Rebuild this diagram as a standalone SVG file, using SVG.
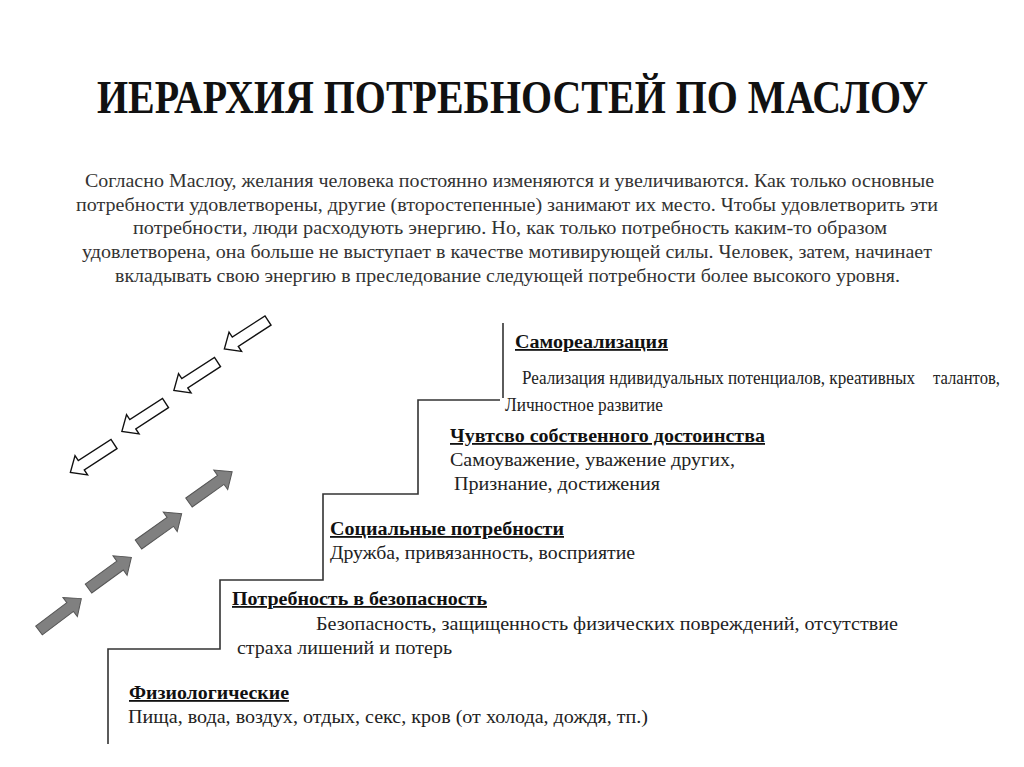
<svg xmlns="http://www.w3.org/2000/svg" width="1024" height="767" viewBox="0 0 1024 767">
<style>
  .title { font-family: "Liberation Serif", "Times New Roman", serif; font-weight: bold; font-size: 40px; fill: #111; }
  .para { font-family: "Liberation Serif", "Times New Roman", serif; font-size: 18px; fill: #333; }
  .hdr { font-family: "Liberation Serif", "Times New Roman", serif; font-weight: bold; font-size: 18px; fill: #111; text-decoration: underline; }
  .body { font-family: "Liberation Serif", "Times New Roman", serif; font-size: 18px; fill: #222; }
  .stair { fill: none; stroke: #333; stroke-width: 1.6; }
  .wa { fill: #fff; stroke: #111; stroke-width: 1.4; stroke-linejoin: miter; }
  .ga { fill: #808080; stroke: #555; stroke-width: 1; }
</style>
<defs>
  <polygon id="warrow" points="0,-5.5 39,-5.5 39,-11.5 52,0 39,11.5 39,5.5 0,5.5"/>
  <polygon id="garrow" points="0,-5.5 39,-5.5 39,-12 53,0 39,12 39,5.5 0,5.5"/>
</defs>
<rect width="1024" height="767" fill="#fff"/>

<g id="title">
  <text class="title" x="0" y="0" transform="translate(97,113) scale(1,1.175)" textLength="831" lengthAdjust="spacingAndGlyphs">ИЕРАРХИЯ ПОТРЕБНОСТЕЙ ПО МАСЛОУ</text>
</g>

<g id="intro">
  <text class="para" x="85" y="187" textLength="849" lengthAdjust="spacingAndGlyphs">Согласно Маслоу, желания человека постоянно изменяются и увеличиваются. Как только основные</text>
  <text class="para" x="76" y="211" textLength="862" lengthAdjust="spacingAndGlyphs">потребности удовлетворены, другие (второстепенные) занимают их место. Чтобы удовлетворить эти</text>
  <text class="para" x="133" y="234" textLength="754" lengthAdjust="spacingAndGlyphs">потребности, люди расходують энергию. Но, как только потребность каким-то образом</text>
  <text class="para" x="82" y="258" textLength="850" lengthAdjust="spacingAndGlyphs">удовлетворена, она больше не выступает в качестве мотивирующей силы. Человек, затем, начинает</text>
  <text class="para" x="115" y="282" textLength="785" lengthAdjust="spacingAndGlyphs">вкладывать свою энергию в преследование следующей потребности более высокого уровня.</text>
</g>

<g id="down-arrows">
  <use href="#warrow" class="wa" transform="translate(268,320.5) rotate(147)"/>
  <use href="#warrow" class="wa" transform="translate(217.5,362) rotate(147)"/>
  <use href="#warrow" class="wa" transform="translate(165.5,403) rotate(147)"/>
  <use href="#warrow" class="wa" transform="translate(114,444) rotate(147)"/>
</g>

<g id="up-arrows">
  <use href="#garrow" class="ga" transform="translate(189,502.5) rotate(-35.5)"/>
  <use href="#garrow" class="ga" transform="translate(138.5,544.5) rotate(-35.5)"/>
  <use href="#garrow" class="ga" transform="translate(88.5,588.5) rotate(-36)"/>
  <use href="#garrow" class="ga" transform="translate(39,630.5) rotate(-37)"/>
</g>

<g id="connectors">
  <path class="stair" d="M108,744 V649 H220 V580 H323 V494 H418 V400 H500"/>
  <line class="stair" x1="503" y1="323" x2="503" y2="398"/>
</g>

<g id="self-actualization">
  <text class="hdr" x="515" y="348" textLength="153" lengthAdjust="spacingAndGlyphs">Самореализация</text>
  <text class="body" x="522" y="384" textLength="393" lengthAdjust="spacingAndGlyphs">Реализация ндивидуальных потенциалов, креативных</text>
  <text class="body" x="933" y="384" textLength="67" lengthAdjust="spacingAndGlyphs">талантов,</text>
  <text class="body" x="505" y="411" textLength="158" lengthAdjust="spacingAndGlyphs">Личностное развитие</text>
</g>

<g id="esteem">
  <text class="hdr" x="450" y="442" textLength="315" lengthAdjust="spacingAndGlyphs">Чувтсво собственного достоинства</text>
  <text class="body" x="450" y="466" textLength="285" lengthAdjust="spacingAndGlyphs">Самоуважение, уважение других,</text>
  <text class="body" x="454" y="490" textLength="206" lengthAdjust="spacingAndGlyphs">Признание, достижения</text>
</g>

<g id="social">
  <text class="hdr" x="330" y="535" textLength="234" lengthAdjust="spacingAndGlyphs">Социальные потребности</text>
  <text class="body" x="330" y="559" textLength="305" lengthAdjust="spacingAndGlyphs">Дружба, привязанность, восприятие</text>
</g>

<g id="safety">
  <text class="hdr" x="232" y="605" textLength="255" lengthAdjust="spacingAndGlyphs">Потребность в безопасность</text>
  <text class="body" x="316" y="630" textLength="582" lengthAdjust="spacingAndGlyphs">Безопасность, защищенность физических повреждений,  отсутствие</text>
  <text class="body" x="237" y="654" textLength="215" lengthAdjust="spacingAndGlyphs">страха лишений и потерь</text>
</g>

<g id="physiological">
  <text class="hdr" x="129" y="699" textLength="160" lengthAdjust="spacingAndGlyphs">Физиологические</text>
  <text class="body" x="128" y="723" textLength="520" lengthAdjust="spacingAndGlyphs">Пища, вода, воздух, отдых, секс, кров (от холода, дождя, тп.)</text>
</g>
</svg>
